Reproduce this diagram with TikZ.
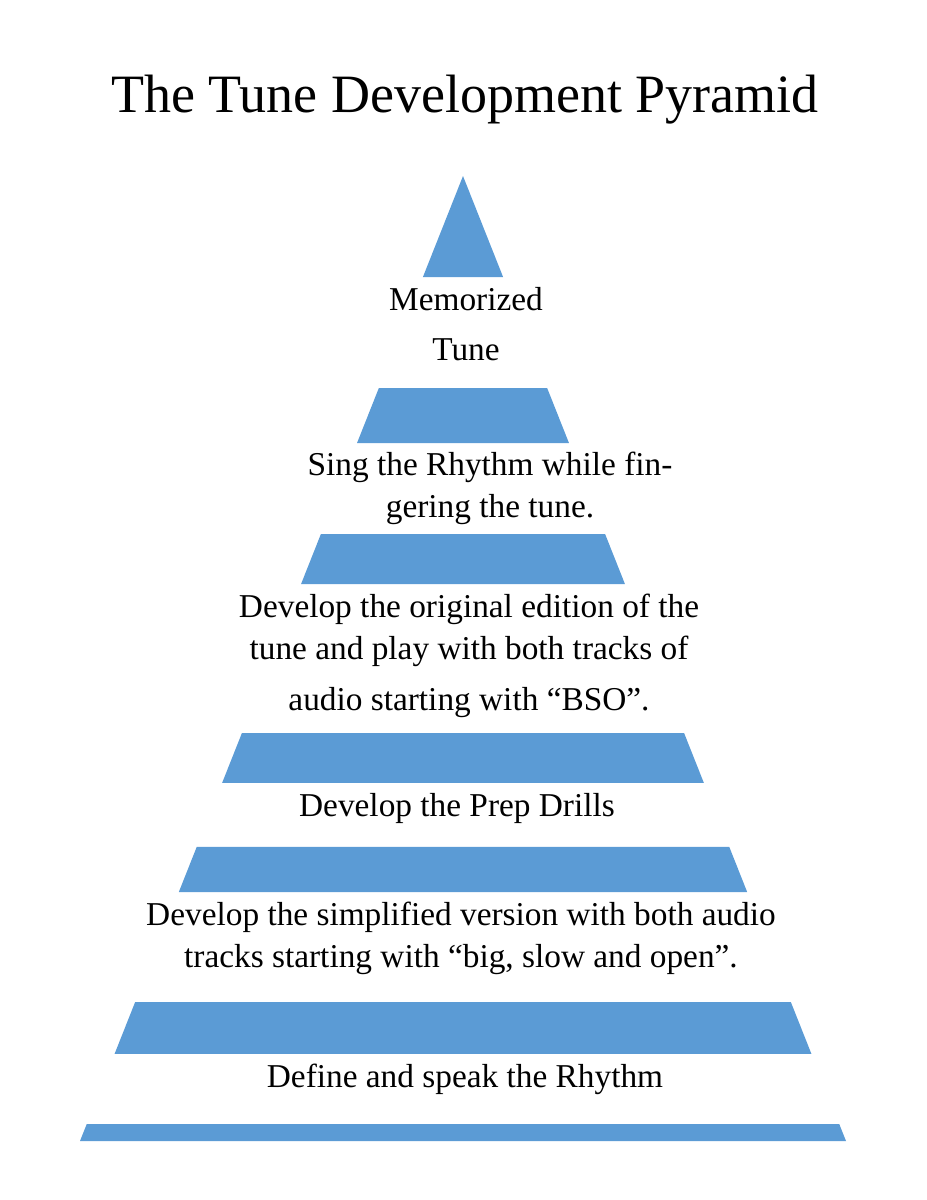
\documentclass[tikz,border=0pt]{standalone}
\usepackage{fontspec}
\setmainfont{Liberation Serif}
\usetikzlibrary{calc}

\definecolor{pyrblue}{RGB}{91,155,213}

\begin{document}
\begin{tikzpicture}[
    x=0.75pt, y=-0.75pt,
    slice/.style={fill=pyrblue, draw=none},
    tier/.style={anchor=base, align=center, inner sep=0pt, font=\fontsize{25}{31.5}\selectfont},
    titletext/.style={anchor=base, inner sep=0pt, font=\fontsize{40.5}{48}\selectfont}
  ]
    \useasboundingbox (0,0) rectangle (927,1200);

    % Outline of the whole pyramid
    \coordinate (apex) at (463,176);
    \coordinate (baseL) at (80,1141);
    \coordinate (baseR) at (846,1141);

    % Title
    \node[titletext] (title) at (465,112) {The Tune Development Pyramid};

    % Top of the pyramid
    \fill[slice] (apex) -- ($(apex)!0.1047!(baseL)$) -- ($(apex)!0.1047!(baseR)$) -- cycle;

    % Slices below
    \foreach \ta/\tb in {0.2197/0.2767, 0.3710/0.4228, 0.5772/0.6290, 0.6953/0.7420, 0.8560/0.9098, 0.9824/1}
      \fill[slice] ($(apex)!\ta!(baseL)$) -- ($(apex)!\ta!(baseR)$) -- ($(apex)!\tb!(baseR)$) -- ($(apex)!\tb!(baseL)$) -- cycle;

    % Texts between the slices (placed at the baseline of their last line)
    \node[tier] (memorized) at (466,360) {Memorized\\[6pt]Tune};
    \node[tier] (sing) at (490,517) {Sing the Rhythm while fin-\\gering the tune.};
    \node[tier] (original) at (469,710) {Develop the original edition of the\\tune and play with both tracks of\\[6.75pt]audio starting with “BSO”.};
    \node[tier] (prep) at (457,816) {Develop the Prep Drills};
    \node[tier] (simplified) at (461,967) {Develop the simplified version with both audio\\tracks starting with “big, slow and open”.};
    \node[tier] (define) at (465,1087) {Define and speak the Rhythm};
  \end{tikzpicture}
\end{document}
